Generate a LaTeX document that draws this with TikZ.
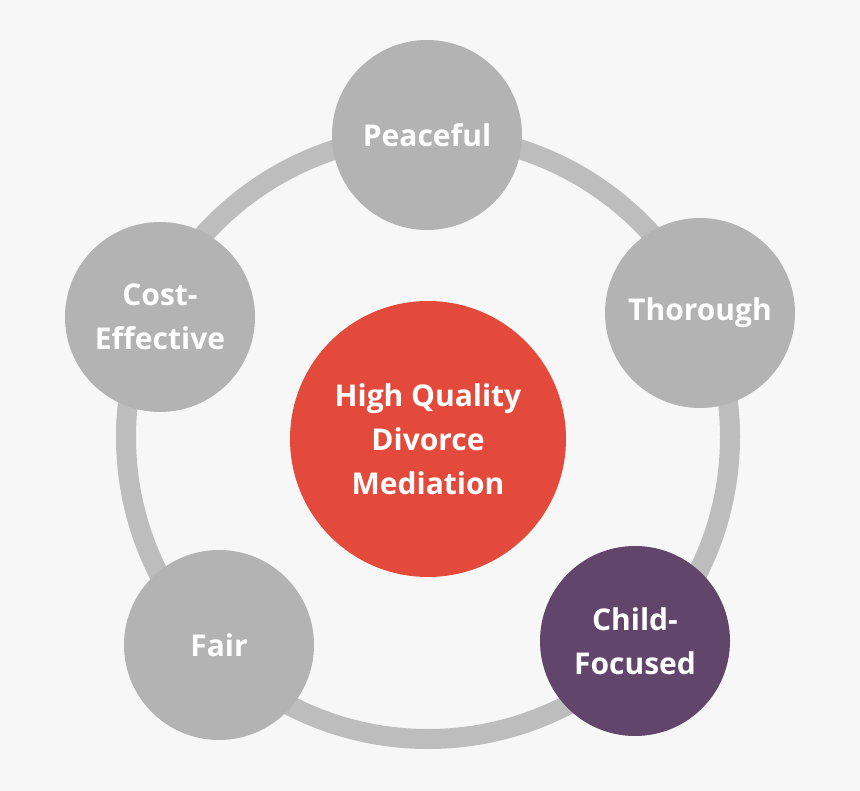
\documentclass[tikz,border=0pt]{standalone}
\usepackage{fontspec}
\setmainfont{Open Sans}
\begin{document}
\begin{tikzpicture}[x=1pt,y=-1pt,
  dot/.style={circle,minimum size=190pt,inner sep=0pt,fill=#1,text=white,align=center,font=\fontsize{30}{44}\selectfont\bfseries},
  ring/.style={draw=ringc,line width=20pt}]
\definecolor{bg}{HTML}{F7F7F7}
\definecolor{ringc}{HTML}{BDBDBD}
\definecolor{gc}{HTML}{B3B3B3}
\definecolor{rc}{HTML}{E44A3B}
\definecolor{pc}{HTML}{61456B}
\fill[bg] (0,0) rectangle (860,791);
\useasboundingbox (0,0) rectangle (860,791);
\coordinate (c) at (428,437);
\draw[ring] (c) circle[radius=302];
\node[dot=rc,minimum size=276pt] (m) at (428,439) {High Quality\\Divorce\\Mediation};
\node[dot=gc] (p) at (427,135) {Peaceful};
\node[dot=gc] (t) at (700,313) {Thorough};
\node[dot=gc] (ce) at (160,317) {Cost-\\Effective};
\node[dot=gc] (f) at (219,645) {Fair};
\node[dot=pc] (cf) at (635,641) {Child-\\Focused};
\end{tikzpicture}
\end{document}
